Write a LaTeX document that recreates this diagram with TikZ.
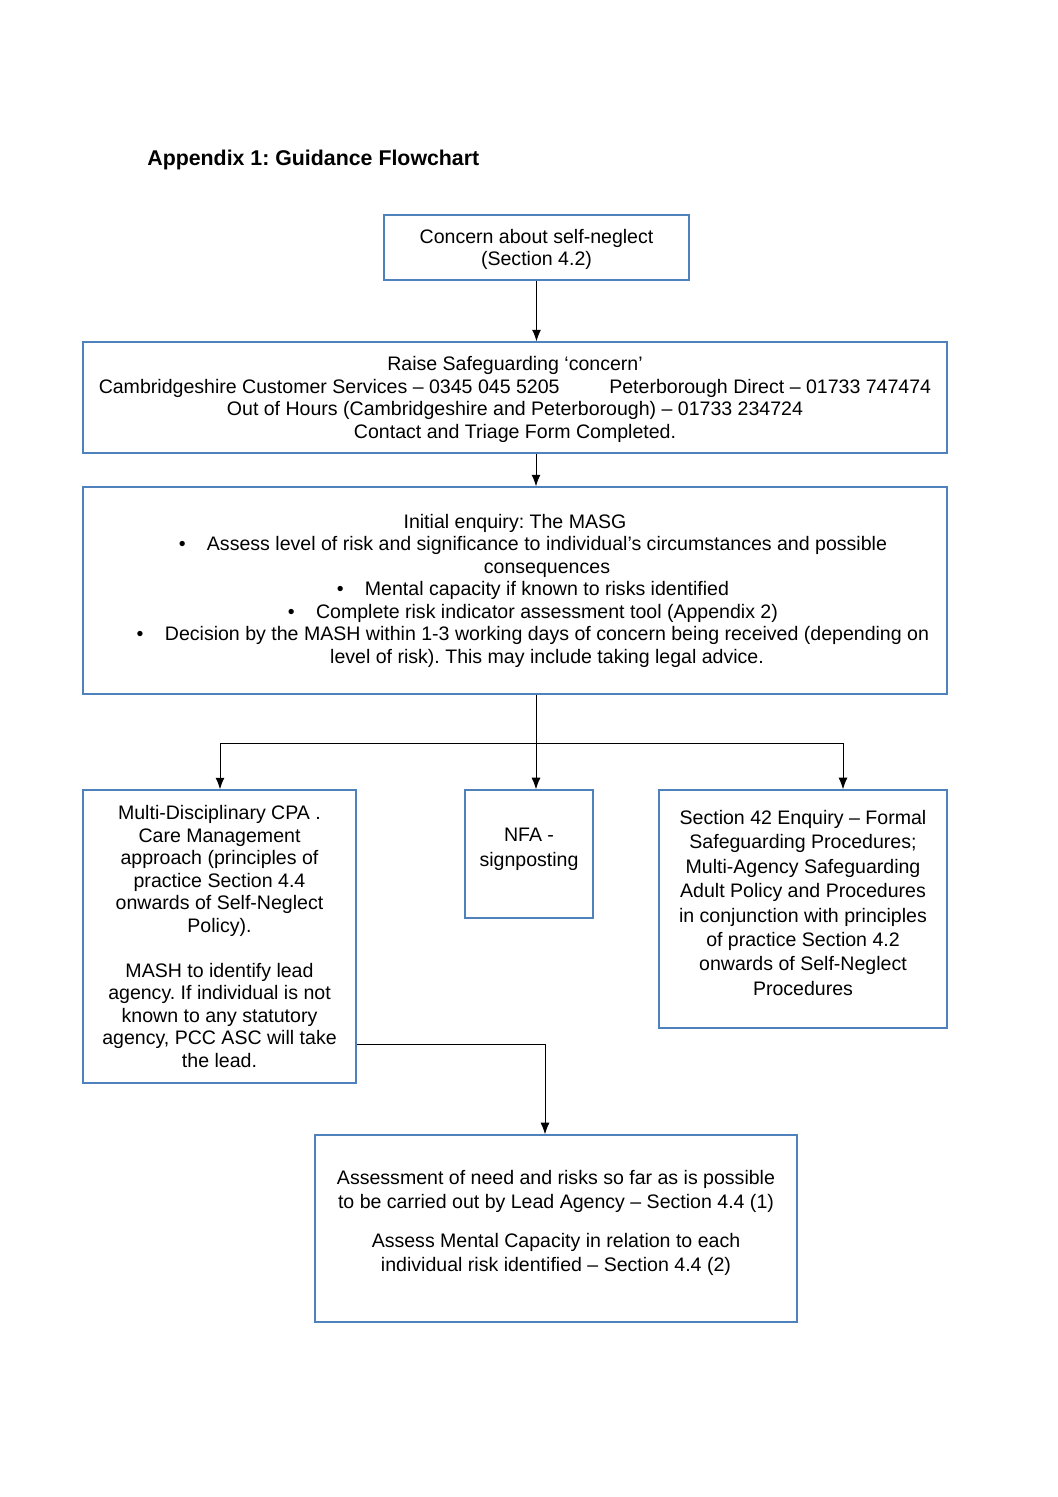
\documentclass[tikz,border=0pt]{standalone}
\usepackage{fontspec}
\setmainfont{Liberation Sans}
\frenchspacing
\usetikzlibrary{arrows.meta}
\definecolor{boxblue}{RGB}{79,129,189}
\tikzset{
  box/.style={draw=boxblue, line width=0.8pt, align=center, inner sep=0pt,
              font=\fontsize{11}{12.65}\selectfont},
  arr/.style={-{Latex[length=6.5pt,width=5pt]}, line width=0.5pt}
}
\newcommand{\bul}{\llap{\textbullet\hspace{12pt}}}
\begin{document}
\begin{tikzpicture}[x=0.5625pt, y=-0.5625pt]
\useasboundingbox (0,0) rectangle (1058,1497);
        % Title
        \node[anchor=base west, inner sep=0pt, font=\fontsize{12}{14}\selectfont\bfseries] (title) at (147,165)
            {Appendix 1: Guidance Flowchart};
        % Draw the boxes
        \node[box, minimum width=171.6pt, minimum height=36.6pt, text depth=0pt] at (536.5,247.5) (concern)
            {Concern about self-neglect\\(Section 4.2)};
        \node[box, minimum width=486pt, minimum height=62.4pt, text depth=0pt] at (515,397.5) (raise)
            {Raise Safeguarding ‘concern’\\
             Cambridgeshire Customer Services – 0345 045 5205\hspace{28pt}Peterborough Direct – 01733 747474\\
             Out of Hours (Cambridgeshire and Peterborough) – 01733 234724\\
             Contact and Triage Form Completed.};
        \node[box, minimum width=486pt, minimum height=116.4pt] at (515,590.5) (enquiry)
            {Initial enquiry: The MASG\\
             \hspace*{36pt}\bul Assess level of risk and significance to individual’s circumstances and possible\\
             \hspace*{36pt}consequences\\
             \hspace*{36pt}\bul Mental capacity if known to risks identified\\
             \hspace*{36pt}\bul Complete risk indicator assessment tool (Appendix 2)\\
             \hspace*{36pt}\bul Decision by the MASH within 1-3 working days of concern being received (depending on\\
             \hspace*{36pt}level of risk). This may include taking legal advice.};
        \node[box, minimum width=153.6pt, minimum height=164.8pt] at (219.5,936.5) (cpa)
            {Multi-Disciplinary CPA .\\Care Management\\approach (principles of\\practice Section 4.4\\
             onwards of Self-Neglect\\Policy).\\[12.65pt]
             MASH to identify lead\\agency. If individual is not\\known to any statutory\\
             agency, PCC ASC will take\\the lead.};
        \node[box, minimum width=72pt, minimum height=72pt, text depth=8pt,
              font=\fontsize{11}{14}\selectfont] at (529,854) (nfa)
            {NFA -\\signposting};
        \node[box, minimum width=162pt, minimum height=133.9pt, text depth=7pt,
              font=\fontsize{11}{13.7}\selectfont] at (803,909) (s42)
            {Section 42 Enquiry – Formal\\Safeguarding Procedures;\\Multi-Agency Safeguarding\\
             Adult Policy and Procedures\\in conjunction with principles\\of practice Section 4.2\\
             onwards of Self-Neglect\\Procedures};
        \node[box, minimum width=271.1pt, minimum height=105.2pt, text depth=8.4pt,
              font=\fontsize{11}{13.5}\selectfont] at (556,1228.5) (assess)
            {Assessment of need and risks so far as is possible\\
             to be carried out by Lead Agency – Section 4.4 (1)\\[8.4pt]
             Assess Mental Capacity in relation to each\\
             individual risk identified – Section 4.4 (2)};
        % Branch points
        \coordinate (split) at (536,743);
        \coordinate (left) at (220,743);
        \coordinate (right) at (843,743);
        \coordinate (elbow) at (545,1044);
        % Connect the boxes
        \draw[arr] (concern.south) -- (concern.south |- raise.north);
        \draw[arr] (split |- raise.south) -- (split |- enquiry.north);
        \draw[line width=0.5pt] (split |- enquiry.south) -- (split);
        \draw[line width=0.5pt] (left) -- (right);
        \draw[arr] (left) -- (left |- cpa.north);
        \draw[arr] (split) -- (split |- nfa.north);
        \draw[arr] (right) -- (right |- s42.north);
        \draw[arr] (cpa.east |- elbow) -| (elbow |- assess.north);
\end{tikzpicture}
\end{document}
